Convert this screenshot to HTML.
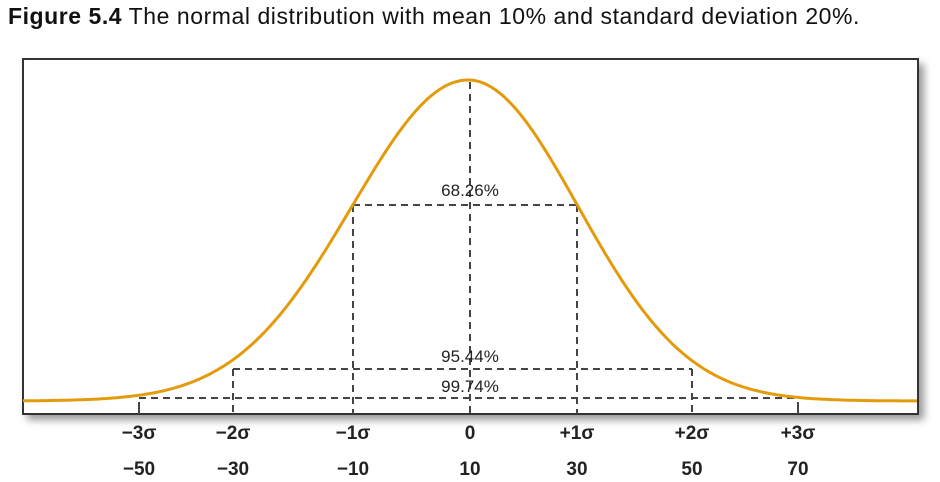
<!DOCTYPE html>
<html><head><style>
body{margin:0;background:#fff;width:940px;height:482px;overflow:hidden}
.t{position:absolute;left:8px;top:3px;font-family:"Liberation Sans",sans-serif;font-size:23px;letter-spacing:0.55px;color:#111;white-space:nowrap}
</style></head><body>
<div class="t"><b>Figure 5.4</b> The normal distribution with mean 10% and standard deviation 20%.</div>
<svg width="940" height="482" style="position:absolute;left:0;top:0">
<defs><filter id="s" x="-5%" y="-5%" width="115%" height="120%"><feGaussianBlur stdDeviation="4"/></filter></defs>
<rect x="27" y="64" width="897" height="356" fill="#999" filter="url(#s)"/>
<rect x="23" y="59" width="895" height="355" fill="#fff" stroke="#333" stroke-width="2"/>
<g stroke="#444" stroke-width="2" stroke-dasharray="7,5" fill="none">
<line x1="470" y1="82" x2="470" y2="414"/>
<line x1="353" y1="205" x2="353" y2="414"/>
<line x1="577" y1="205" x2="577" y2="414"/>
<line x1="233" y1="369" x2="233" y2="414"/>
<line x1="692" y1="369" x2="692" y2="414"/>
<line x1="353" y1="205" x2="577" y2="205"/>
<line x1="233" y1="369" x2="692" y2="369"/>
<line x1="139" y1="398" x2="798" y2="398"/>
</g>
<g stroke="#444" stroke-width="2"><line x1="139" y1="402" x2="139" y2="414"/><line x1="798" y1="402" x2="798" y2="414"/></g>
<path id="c" fill="none" stroke="#e39b0c" stroke-width="3"/>
<g font-family="Liberation Sans Narrow,Liberation Sans,sans-serif" font-size="17" fill="#222" text-anchor="middle">
<text x="470" y="196">68.26%</text>
<text x="470" y="362">95.44%</text>
<text x="470" y="392">99.74%</text>
</g>
<g font-family="Liberation Sans Narrow,Liberation Sans,sans-serif" font-size="19" font-weight="bold" fill="#222" text-anchor="middle">
<text x="139" y="439">−3σ</text><text x="233" y="439">−2σ</text><text x="353" y="439">−1σ</text><text x="470" y="439">0</text><text x="577" y="439">+1σ</text><text x="692" y="439">+2σ</text><text x="798" y="439">+3σ</text>
<text x="139" y="475">−50</text><text x="233" y="475">−30</text><text x="353" y="475">−10</text><text x="470" y="475">10</text><text x="577" y="475">30</text><text x="692" y="475">50</text><text x="798" y="475">70</text>
</g>
</svg>
<script>
var d="";for(var x=23;x<=918;x+=2){var m=468,s=x<m?116:110;var z=(x-m)/s;var y=401-321*Math.exp(-z*z/2);d+=(x==23?"M":"L")+x+","+y.toFixed(1);}
document.getElementById("c").setAttribute("d",d);
</script>
</body></html>
